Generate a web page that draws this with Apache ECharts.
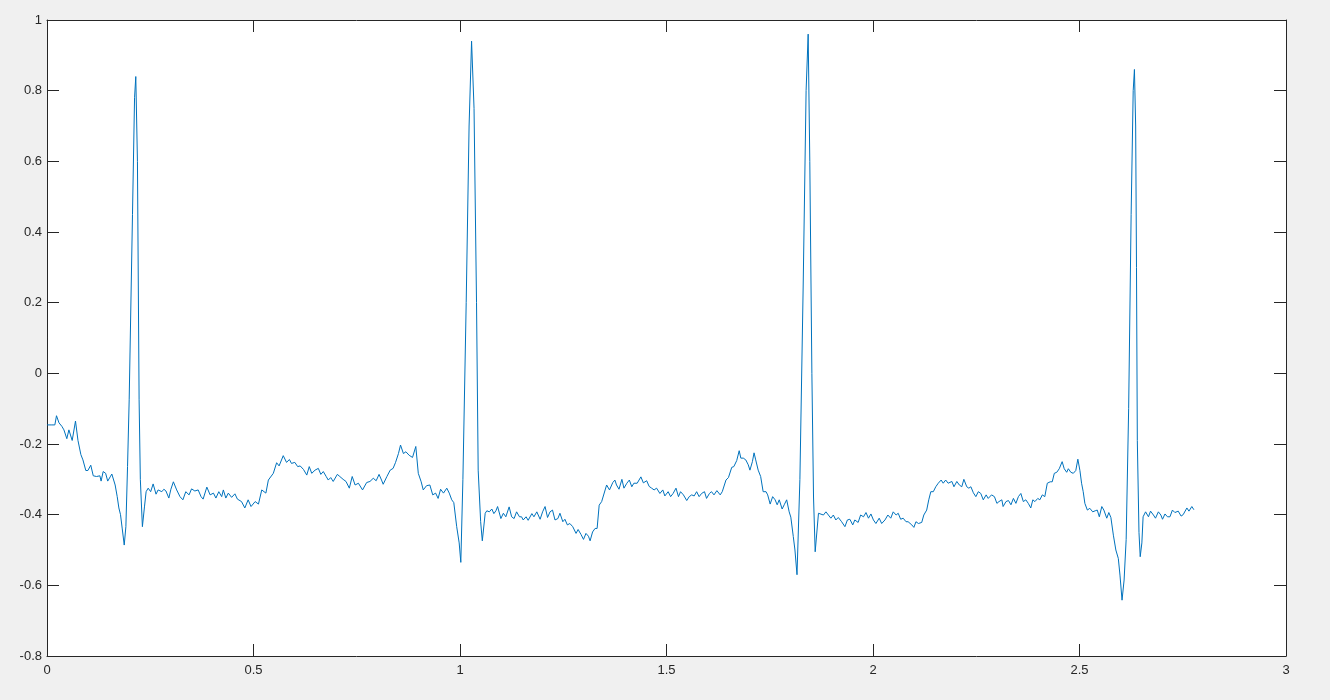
<!DOCTYPE html>
<html>
<head>
<meta charset="UTF-8">
<title>ECG</title>
<script src="https://cdn.jsdelivr.net/npm/echarts@6/dist/echarts.min.js"></script>
<style>
  html, body { margin: 0; padding: 0; background: #f0f0f0; }
  #main { width: 1330px; height: 700px; }
</style>
</head>
<body>
<div id="main"></div>
<script type="text/javascript">
// time axis (s)
var timeSec = [
  0, 0.010, 0.019, 0.023, 0.029, 0.036, 0.041, 0.048, 0.053, 0.061, 0.069, 0.075, 0.082, 0.087, 0.094, 0.099,
  0.106, 0.112, 0.120, 0.128, 0.131, 0.136, 0.142, 0.147, 0.153, 0.157, 0.165, 0.170, 0.174, 0.178, 0.182, 0.187,
  0.191, 0.195, 0.199, 0.207, 0.212, 0.215, 0.219, 0.223, 0.226, 0.231, 0.236, 0.240, 0.245, 0.251, 0.257, 0.264,
  0.269, 0.278, 0.283, 0.288, 0.295, 0.300, 0.306, 0.314, 0.322, 0.329, 0.336, 0.344, 0.350, 0.358, 0.366, 0.373,
  0.378, 0.387, 0.395, 0.403, 0.409, 0.416, 0.423, 0.427, 0.433, 0.439, 0.447, 0.455, 0.461, 0.471, 0.479, 0.487,
  0.494, 0.504, 0.512, 0.520, 0.530, 0.536, 0.548, 0.556, 0.562, 0.572, 0.580, 0.587, 0.592, 0.600, 0.607, 0.613,
  0.621, 0.629, 0.635, 0.641, 0.649, 0.657, 0.663, 0.669, 0.676, 0.681, 0.687, 0.693, 0.703, 0.709, 0.717, 0.724,
  0.732, 0.739, 0.746, 0.754, 0.764, 0.774, 0.782, 0.790, 0.797, 0.804, 0.810, 0.814, 0.823, 0.831, 0.838, 0.844,
  0.851, 0.856, 0.863, 0.869, 0.877, 0.885, 0.893, 0.899, 0.906, 0.911, 0.919, 0.927, 0.934, 0.941, 0.947, 0.953,
  0.960, 0.968, 0.974, 0.980, 0.985, 0.992, 0.998, 1.002, 1.007, 1.015, 1.022, 1.028, 1.034, 1.040, 1.044, 1.050,
  1.054, 1.061, 1.065, 1.071, 1.077, 1.082, 1.087, 1.091, 1.099, 1.105, 1.111, 1.119, 1.125, 1.131, 1.137, 1.144,
  1.149, 1.153, 1.160, 1.165, 1.174, 1.179, 1.186, 1.194, 1.200, 1.206, 1.212, 1.218, 1.224, 1.230, 1.237, 1.242,
  1.249, 1.254, 1.260, 1.266, 1.273, 1.281, 1.286, 1.293, 1.299, 1.305, 1.311, 1.315, 1.321, 1.327, 1.332, 1.337,
  1.343, 1.347, 1.355, 1.362, 1.370, 1.375, 1.379, 1.385, 1.392, 1.397, 1.404, 1.410, 1.416, 1.421, 1.429, 1.438,
  1.444, 1.452, 1.458, 1.464, 1.470, 1.476, 1.484, 1.491, 1.496, 1.504, 1.510, 1.516, 1.523, 1.529, 1.534, 1.541,
  1.549, 1.555, 1.561, 1.567, 1.573, 1.579, 1.585, 1.592, 1.597, 1.604, 1.609, 1.615, 1.622, 1.630, 1.635, 1.644,
  1.650, 1.658, 1.663, 1.670, 1.676, 1.680, 1.686, 1.692, 1.698, 1.702, 1.708, 1.712, 1.716, 1.722, 1.728, 1.734,
  1.741, 1.745, 1.751, 1.757, 1.763, 1.768, 1.773, 1.780, 1.785, 1.791, 1.797, 1.801, 1.807, 1.811, 1.816, 1.823,
  1.831, 1.838, 1.843, 1.847, 1.852, 1.856, 1.860, 1.868, 1.872, 1.880, 1.886, 1.892, 1.898, 1.904, 1.910, 1.916,
  1.924, 1.932, 1.938, 1.944, 1.951, 1.956, 1.964, 1.970, 1.977, 1.983, 1.989, 1.995, 2.001, 2.007, 2.015, 2.021,
  2.029, 2.036, 2.043, 2.049, 2.056, 2.061, 2.067, 2.073, 2.080, 2.085, 2.094, 2.099, 2.104, 2.110, 2.118, 2.123,
  2.130, 2.135, 2.140, 2.146, 2.152, 2.158, 2.165, 2.170, 2.176, 2.182, 2.191, 2.196, 2.203, 2.209, 2.215, 2.220,
  2.227, 2.232, 2.237, 2.243, 2.249, 2.255, 2.261, 2.267, 2.274, 2.279, 2.287, 2.294, 2.300, 2.305, 2.312, 2.315,
  2.322, 2.328, 2.334, 2.340, 2.346, 2.352, 2.358, 2.364, 2.370, 2.376, 2.382, 2.387, 2.392, 2.399, 2.404, 2.410,
  2.416, 2.422, 2.429, 2.434, 2.439, 2.445, 2.451, 2.458, 2.463, 2.469, 2.473, 2.479, 2.485, 2.491, 2.496, 2.501,
  2.505, 2.509, 2.513, 2.519, 2.525, 2.532, 2.538, 2.543, 2.548, 2.554, 2.559, 2.566, 2.571, 2.576, 2.582, 2.588,
  2.594, 2.598, 2.603, 2.608, 2.613, 2.619, 2.625, 2.630, 2.633, 2.636, 2.638, 2.640, 2.644, 2.647, 2.651, 2.654,
  2.660, 2.667, 2.672, 2.679, 2.684, 2.691, 2.697, 2.701, 2.707, 2.713, 2.719, 2.725, 2.731, 2.739, 2.746, 2.751,
  2.760, 2.765, 2.772, 2.777
];

// signal amplitude at each time
var ecgValue = [
  -0.146, -0.146, -0.146, -0.120, -0.140, -0.150, -0.160, -0.185, -0.160, -0.190, -0.135, -0.190, -0.230, -0.245, -0.275, -0.275,
  -0.260, -0.290, -0.292, -0.290, -0.305, -0.278, -0.283, -0.305, -0.293, -0.285, -0.316, -0.349, -0.381, -0.400, -0.438, -0.486,
  -0.434, -0.264, -0.075, 0.450, 0.780, 0.840, 0.600, -0.075, -0.300, -0.434, -0.378, -0.335, -0.325, -0.335, -0.313, -0.342,
  -0.330, -0.335, -0.328, -0.333, -0.353, -0.328, -0.307, -0.330, -0.349, -0.358, -0.335, -0.344, -0.327, -0.333, -0.330, -0.349,
  -0.356, -0.322, -0.344, -0.339, -0.353, -0.335, -0.349, -0.330, -0.353, -0.339, -0.351, -0.341, -0.356, -0.363, -0.381, -0.358,
  -0.377, -0.363, -0.370, -0.330, -0.339, -0.302, -0.283, -0.253, -0.262, -0.233, -0.252, -0.244, -0.255, -0.252, -0.264, -0.262,
  -0.272, -0.288, -0.264, -0.283, -0.274, -0.269, -0.286, -0.278, -0.292, -0.302, -0.295, -0.306, -0.286, -0.292, -0.300, -0.306,
  -0.325, -0.292, -0.316, -0.311, -0.330, -0.309, -0.306, -0.297, -0.304, -0.286, -0.302, -0.314, -0.292, -0.274, -0.269, -0.252,
  -0.227, -0.203, -0.227, -0.222, -0.232, -0.238, -0.207, -0.283, -0.307, -0.330, -0.318, -0.316, -0.344, -0.339, -0.354, -0.328,
  -0.339, -0.325, -0.339, -0.358, -0.366, -0.434, -0.480, -0.535, -0.300, 0.200, 0.700, 0.940, 0.750, 0.200, -0.274, -0.420,
  -0.474, -0.396, -0.389, -0.392, -0.384, -0.397, -0.389, -0.377, -0.411, -0.396, -0.406, -0.378, -0.406, -0.411, -0.392, -0.406,
  -0.406, -0.415, -0.406, -0.416, -0.397, -0.406, -0.392, -0.413, -0.392, -0.377, -0.408, -0.392, -0.387, -0.415, -0.411, -0.396,
  -0.420, -0.413, -0.429, -0.425, -0.434, -0.453, -0.442, -0.456, -0.470, -0.453, -0.461, -0.474, -0.449, -0.439, -0.439, -0.373,
  -0.363, -0.360, -0.316, -0.330, -0.309, -0.302, -0.316, -0.328, -0.300, -0.325, -0.311, -0.302, -0.321, -0.311, -0.311, -0.293,
  -0.310, -0.304, -0.320, -0.325, -0.330, -0.325, -0.340, -0.330, -0.347, -0.335, -0.349, -0.340, -0.325, -0.349, -0.335, -0.344,
  -0.360, -0.349, -0.344, -0.347, -0.335, -0.349, -0.340, -0.335, -0.354, -0.340, -0.335, -0.344, -0.332, -0.344, -0.335, -0.302,
  -0.295, -0.266, -0.264, -0.247, -0.219, -0.240, -0.240, -0.245, -0.259, -0.274, -0.250, -0.225, -0.245, -0.274, -0.292, -0.335,
  -0.335, -0.344, -0.370, -0.349, -0.358, -0.372, -0.358, -0.384, -0.372, -0.358, -0.392, -0.407, -0.462, -0.500, -0.570, -0.300,
  0.250, 0.800, 0.960, 0.600, 0.000, -0.350, -0.505, -0.396, -0.392, -0.401, -0.392, -0.401, -0.410, -0.401, -0.415, -0.408,
  -0.420, -0.434, -0.415, -0.413, -0.429, -0.415, -0.422, -0.401, -0.406, -0.394, -0.410, -0.398, -0.415, -0.425, -0.410, -0.425,
  -0.415, -0.401, -0.410, -0.392, -0.401, -0.396, -0.413, -0.410, -0.420, -0.420, -0.429, -0.436, -0.420, -0.425, -0.422, -0.401,
  -0.387, -0.358, -0.335, -0.335, -0.321, -0.311, -0.302, -0.311, -0.302, -0.311, -0.306, -0.321, -0.306, -0.316, -0.321, -0.300,
  -0.321, -0.325, -0.321, -0.338, -0.349, -0.335, -0.340, -0.358, -0.344, -0.354, -0.344, -0.349, -0.368, -0.363, -0.358, -0.377,
  -0.363, -0.360, -0.372, -0.354, -0.368, -0.349, -0.340, -0.363, -0.358, -0.368, -0.381, -0.358, -0.363, -0.354, -0.358, -0.344,
  -0.349, -0.311, -0.307, -0.307, -0.283, -0.280, -0.270, -0.250, -0.270, -0.280, -0.270, -0.280, -0.283, -0.275, -0.243, -0.275,
  -0.311, -0.335, -0.368, -0.387, -0.382, -0.392, -0.389, -0.387, -0.406, -0.377, -0.387, -0.410, -0.394, -0.408, -0.458, -0.500,
  -0.524, -0.571, -0.642, -0.585, -0.470, -0.100, 0.450, 0.800, 0.860, 0.700, 0.300, -0.190, -0.450, -0.519, -0.480, -0.406,
  -0.392, -0.406, -0.390, -0.401, -0.410, -0.392, -0.401, -0.413, -0.398, -0.406, -0.406, -0.387, -0.394, -0.390, -0.404, -0.400,
  -0.381, -0.390, -0.377, -0.386
];

var xTicks = [0, 0.5, 1, 1.5, 2, 2.5, 3];
var yTicks = [-0.8, -0.6, -0.4, -0.2, 0, 0.2, 0.4, 0.6, 0.8, 1];

var points = timeSec.map(function (t, i) { return [t, ecgValue[i]]; });

var myChart = echarts.init(document.getElementById('main'));

var axisCol = '#262626';
var labelFont = { color: axisCol, fontSize: 13, fontFamily: 'Liberation Sans, Arial, sans-serif' };

function boxAxis(pos, min, max, interval, showLabel, margin) {
    return {
        type: 'value',
        position: pos,
        min: min,
        max: max,
        interval: interval,
        splitLine: { show: false },
        axisLine: { show: true, onZero: false, lineStyle: { color: axisCol, width: 1 } },
        axisTick: { show: true, inside: true, length: 12, lineStyle: { color: axisCol, width: 1 } },
        axisLabel: Object.assign({ show: showLabel, margin: margin }, labelFont)
    };
}

var option = {
    backgroundColor: '#f0f0f0',
    animation: false,
    grid: {
        left: 47,
        right: 44,
        top: 20,
        bottom: 44,
        show: true,
        backgroundColor: '#ffffff',
        borderWidth: 0
    },
    xAxis: [
        boxAxis('bottom', xTicks[0], xTicks[xTicks.length - 1], 0.5, true, 8),
        boxAxis('top', xTicks[0], xTicks[xTicks.length - 1], 0.5, false, 8)
    ],
    yAxis: [
        boxAxis('left', yTicks[0], yTicks[yTicks.length - 1], 0.2, true, 5),
        boxAxis('right', yTicks[0], yTicks[yTicks.length - 1], 0.2, false, 8)
    ],
    series: [
        {
            name: 'ECG',
            type: 'line',
            data: points,
            showSymbol: false,
            symbol: 'none',
            lineStyle: { color: '#0072BD', width: 1 }
        }
    ]
};

myChart.setOption(option);
</script>
</body>
</html>
